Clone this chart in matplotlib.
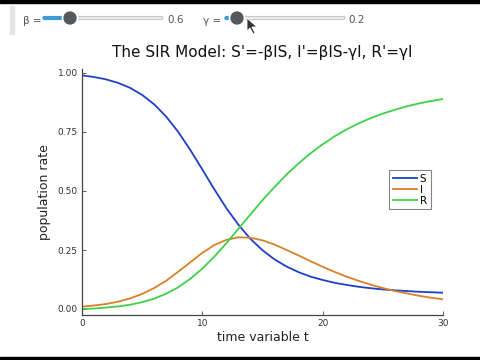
import matplotlib
matplotlib.use("Agg")
import matplotlib.pyplot as plt
from matplotlib.patches import Circle, Rectangle, FancyBboxPatch, Polygon

# Data (t = 0..30)
t = list(range(31))
S = [0.990, 0.983, 0.973, 0.958, 0.937, 0.907, 0.867, 0.815, 0.750, 0.674,
     0.591, 0.507, 0.427, 0.357, 0.297, 0.249, 0.210, 0.180, 0.156, 0.137,
     0.123, 0.111, 0.102, 0.094, 0.088, 0.083, 0.079, 0.076, 0.073, 0.071, 0.069]
I = [0.010, 0.015, 0.021, 0.031, 0.045, 0.064, 0.089, 0.120, 0.158, 0.198,
     0.238, 0.271, 0.293, 0.304, 0.302, 0.291, 0.273, 0.250, 0.227, 0.202,
     0.179, 0.157, 0.137, 0.119, 0.103, 0.089, 0.076, 0.066, 0.056, 0.048, 0.041]
R = [0.000, 0.002, 0.006, 0.011, 0.018, 0.029, 0.044, 0.065, 0.092, 0.128,
     0.171, 0.222, 0.279, 0.340, 0.401, 0.461, 0.517, 0.570, 0.617, 0.660,
     0.698, 0.732, 0.761, 0.787, 0.809, 0.828, 0.844, 0.859, 0.871, 0.881, 0.890]
series_names = ["S", "I", "R"]
series_colors = ["#1f40c4", "#d9802a", "#3fd04a"]
xticks = [0, 10, 20, 30]
yticks = [0.00, 0.25, 0.50, 0.75, 1.00]
beta_val, gamma_val = 0.6, 0.2

W, H = 480, 360
fig = plt.figure(figsize=(W / 100, H / 100), dpi=100)
fig.patch.set_facecolor("white")

# overlay for widgets / borders (pixel coords)
ov = fig.add_axes([0, 0, 1, 1])
ov.set_xlim(0, W)
ov.set_ylim(H, 0)
ov.axis("off")
ov.add_patch(Rectangle((0, 0), W, 3, color="black"))
ov.add_patch(Rectangle((0, 357), W, 3, color="black"))
ov.add_patch(Rectangle((10, 6), 4, 28, color="#e4e4e4"))


def slider(x0, x1, xk, label, lx, val, vx):
    ov.add_patch(FancyBboxPatch((x0, 16.5), x1 - x0, 3, boxstyle="round,pad=0,rounding_size=1.5",
                                facecolor="#ececec", edgecolor="#c8c8c8", lw=0.8))
    ov.add_patch(FancyBboxPatch((x0, 16.5), xk - x0, 3, boxstyle="round,pad=0,rounding_size=1.5",
                                facecolor="#3b9bd6", edgecolor="#3b9bd6", lw=0.8))
    ov.add_patch(Circle((xk, 18), 7.5, facecolor="#55585f", edgecolor="white", lw=1.2, zorder=5))
    ov.text(lx, 21, label, fontsize=7.5, color="#555555", ha="left", va="center")
    ov.text(vx, 20, f"{val}", fontsize=7.5, color="#555555", ha="left", va="center")


slider(43, 163, 70, "β =", 23, beta_val, 167)
slider(225, 345, 237, "γ =", 203, gamma_val, 348)
ov.add_patch(Polygon([(247, 18), (247, 31), (250, 28), (253, 34), (255, 33), (252, 27), (257, 27)],
                     closed=True, facecolor="#333333", edgecolor="white", lw=0.6, zorder=6))

# main axes
ax = fig.add_axes([82 / W, 1 - 315 / H, (443 - 82) / W, (315 - 69) / H])
for name, ys, c in zip(series_names, [S, I, R], series_colors):
    ax.plot(t, ys, color=c, lw=1.3, label=name, solid_joinstyle="round")

ax.set_xlim(0, 30)
ax.set_ylim(-6 / 236, 1 + 4 / 236)
ax.set_xticks(xticks)
ax.set_yticks(yticks)
ax.set_yticklabels([f"{v:.2f}" for v in yticks])
ax.spines["top"].set_visible(False)
ax.spines["right"].set_visible(False)
for sp in ["left", "bottom"]:
    ax.spines[sp].set_color("#444444")
    ax.spines[sp].set_linewidth(0.9)
ax.tick_params(direction="in", length=3, width=0.6, colors="#444444", labelsize=6.5,
               labelcolor="#333333", pad=3)
ax.set_xlabel("time variable t", fontsize=9, color="#222222", labelpad=2)
ax.set_ylabel("population rate", fontsize=9, color="#222222", labelpad=5)
ax.set_title("The SIR Model: S'=-βIS, I'=βIS-γI, R'=γI", fontsize=11, color="#111111", pad=9)

leg = ax.legend(loc="upper left", bbox_to_anchor=((389 - 82) / 361, (315 - 170) / 246),
                fontsize=7.5, frameon=True, fancybox=False, handlelength=2.3,
                handletextpad=0.3, borderpad=0.35, labelspacing=0.1, borderaxespad=0)
leg.get_frame().set_edgecolor("#666666")
leg.get_frame().set_linewidth(0.8)

fig.savefig("out.png", dpi=100)
